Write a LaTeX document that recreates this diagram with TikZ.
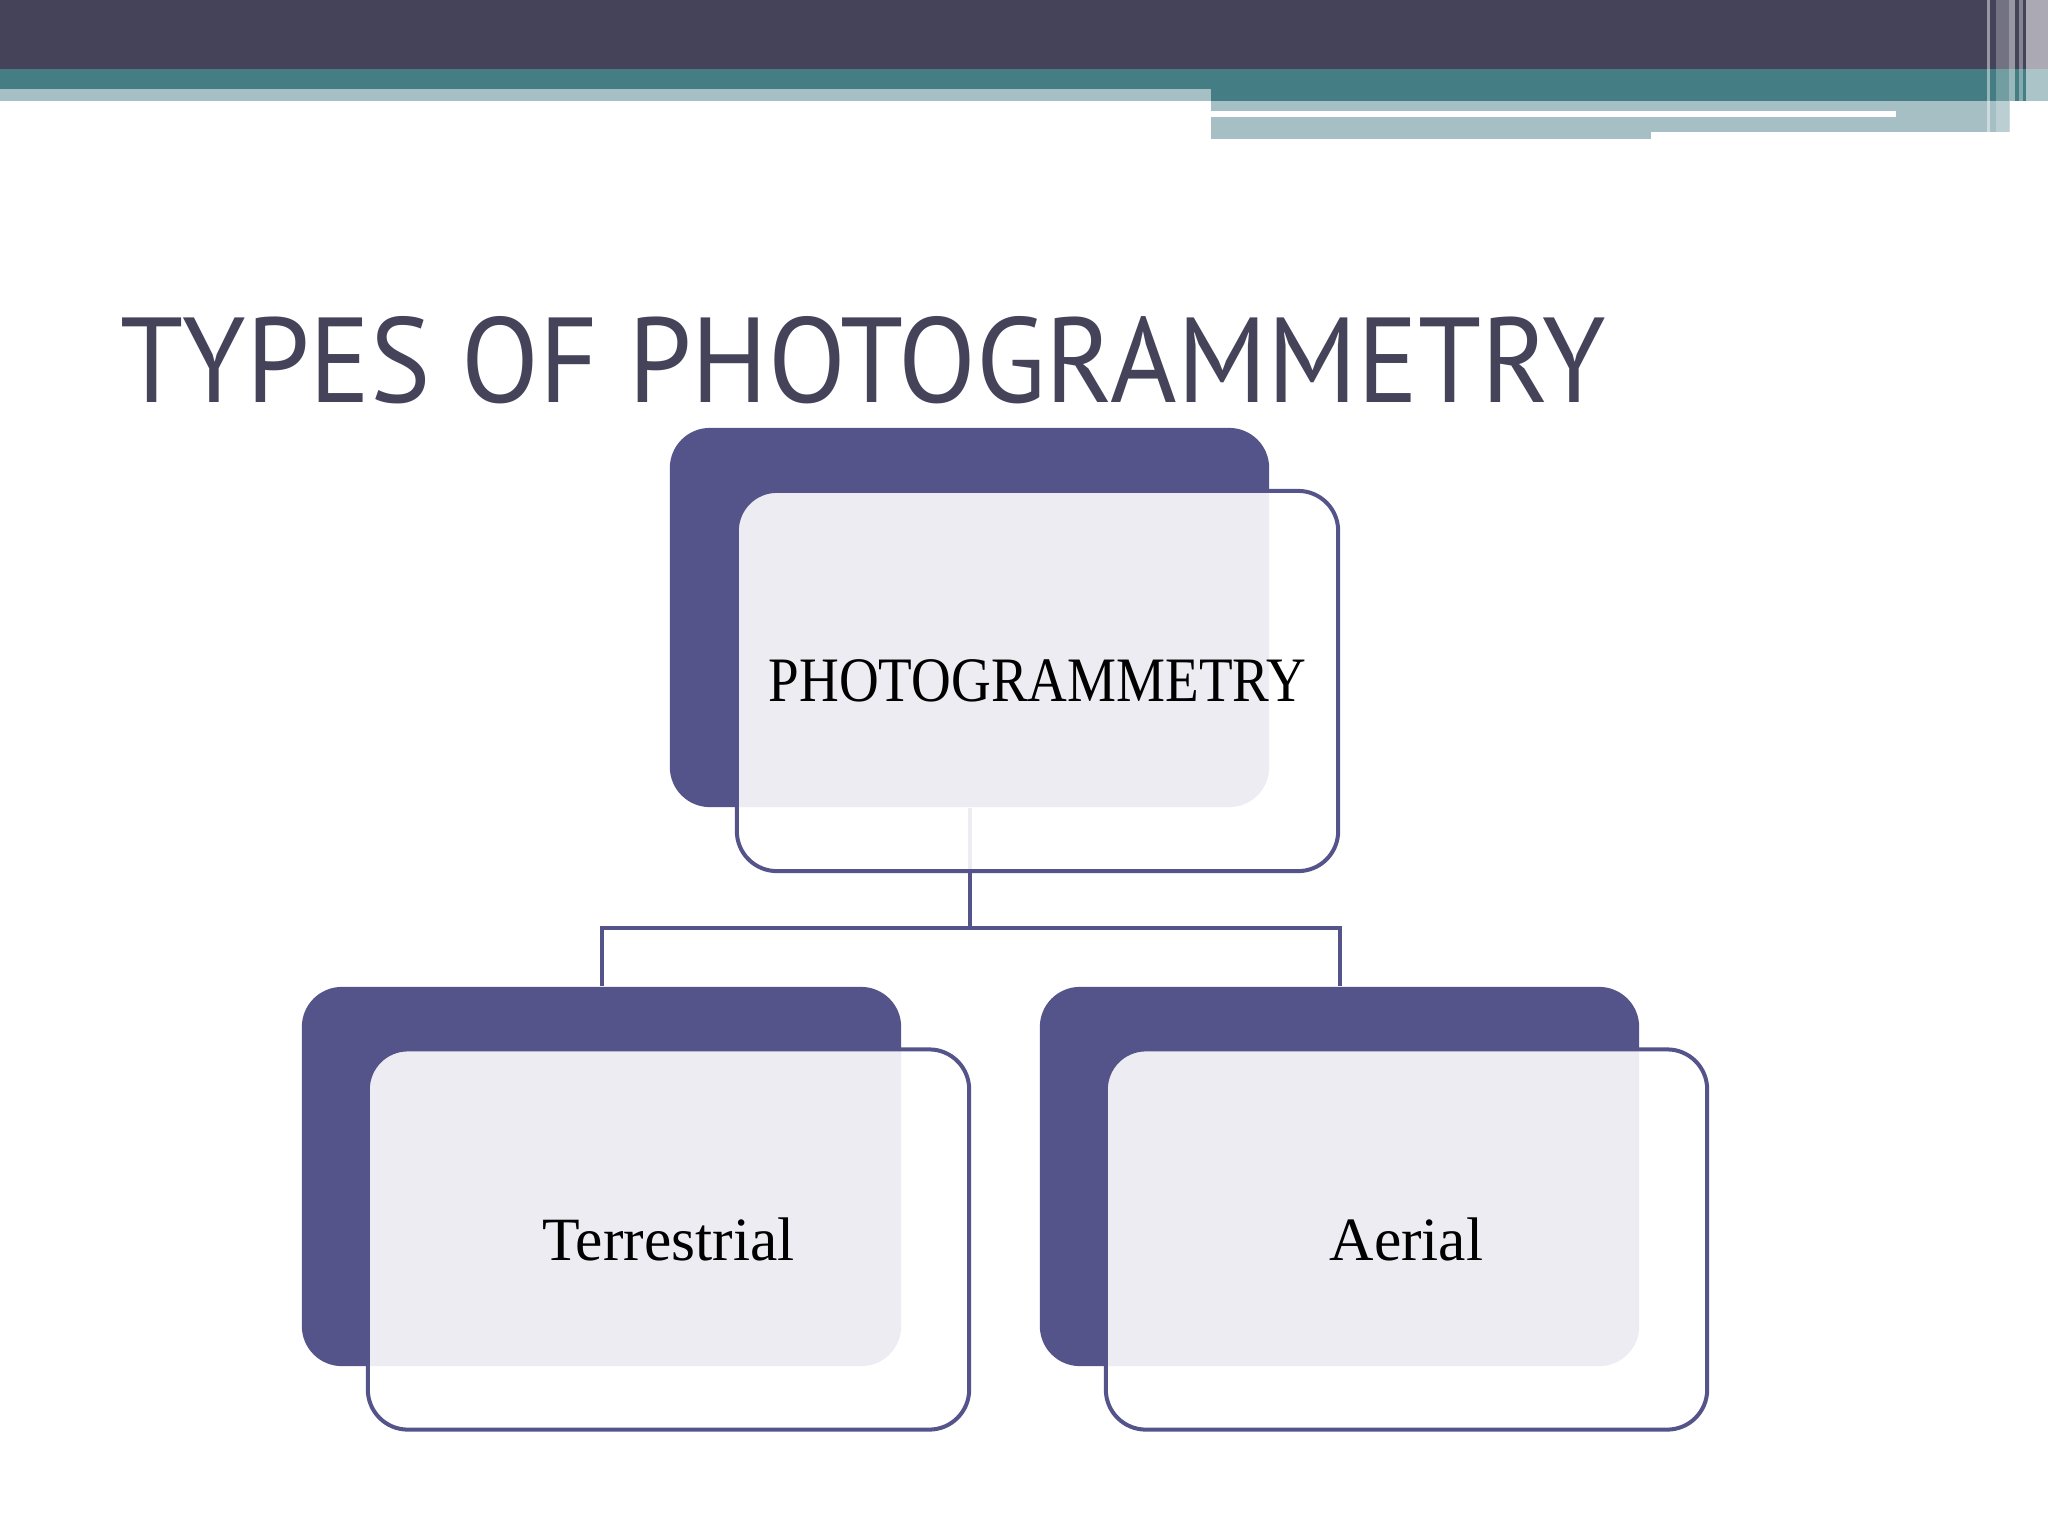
\documentclass[tikz,border=0pt]{standalone}
\usepackage{fontspec}
\setmainfont{Liberation Serif}
\newfontfamily\titlefont{PT Sans}
\usetikzlibrary{positioning,calc}
\definecolor{slate}{HTML}{45435A}
\definecolor{bandteal}{HTML}{447E84}
\definecolor{paleteal}{HTML}{A5BFC4}
\definecolor{boxviolet}{HTML}{55548A}

\begin{document}
\begin{tikzpicture}[x=0.01cm, y=-0.01cm,
    backbox/.style={fill=boxviolet, rounded corners=0.4cm, inner sep=0pt,
      minimum width=5.99cm, minimum height=3.79cm},
    frontbox/.style={draw=boxviolet, line width=0.04cm, fill=white, fill opacity=0.89,
      text opacity=1, rounded corners=0.4cm, inner sep=0pt,
      minimum width=6.01cm, minimum height=3.80cm,
      font=\fontsize{17.5}{20}\selectfont},
    link/.style={draw=boxviolet, line width=0.04cm}]
    \useasboundingbox[fill=white] (0,0) rectangle (2048,1536);
    % header bands
    \fill[slate] (0,0) rectangle (2048,69);
    \fill[bandteal] (0,69) rectangle (2048,89);
    \fill[bandteal] (1211,89) rectangle (2048,101);
    \fill[paleteal] (0,89) rectangle (1211,101);
    \fill[paleteal] (1211,101) rectangle (2010,139);
    \fill[white] (1211,111) rectangle (1896,117);
    \fill[white] (1651,132) rectangle (2010,139);
    \foreach \x/\w/\o in {1987/3/0.45, 1996/13/0.25, 2009/6/0.45, 2019/4/0.35, 2026/22/0.55}
      \fill[white, opacity=\o] (\x,0) rectangle ++(\w,139);
    % title
    \node[anchor=base west, inner sep=0pt, text=slate, font=\titlefont\fontsize{34}{36}\selectfont]
      (title) at (120,402) {\resizebox{14.84cm}{0.86cm}{TYPES OF PHOTOGRAMMETRY}};
    % back boxes
    \node[backbox] (topback) at (969.5,617.5) {};
    \node[backbox] (leftback) at (601.5,1176.5) {};
    \node[backbox] (rightback) at (1339.5,1176.5) {};
    % connectors
    \draw[link] (topback.south) -- ++(0,120) coordinate (fork) -| (leftback.north);
    \draw[link] (fork) -| (rightback.north);
    % front boxes
    \node[frontbox] (top) at ([shift={(68,63.5)}]topback.center)
      {\scalebox{0.87}[1]{\fontsize{18}{20}\selectfont PHOTOGRAMMETRY}};
    \node[frontbox] (left) at ([shift={(67,63)}]leftback.center) {Terrestrial};
    \node[frontbox] (right) at ([shift={(67,63)}]rightback.center) {Aerial};
\end{tikzpicture}
\end{document}
